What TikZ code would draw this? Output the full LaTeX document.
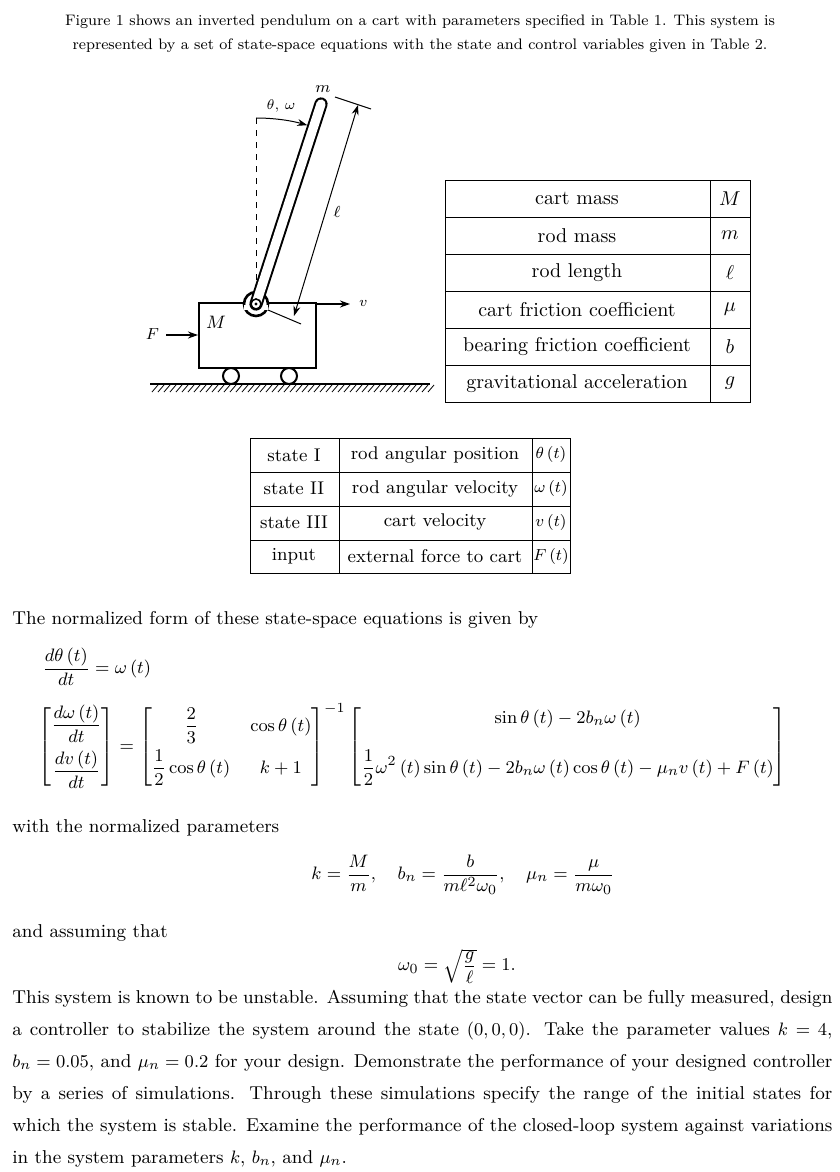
\documentclass[tikz,border=0pt]{standalone}
\usepackage{amsmath,amssymb}
\usetikzlibrary{arrows.meta,calc}
\begin{document}
\begin{tikzpicture}[x=0.5pt,y=-0.5pt,
  body/.style={font=\fontsize{9.3}{16}\selectfont, inner sep=0pt},
  eq/.style={font=\fontsize{9.3}{11}\selectfont, inner sep=0pt},
  tb/.style={font=\fontsize{10}{12}\selectfont, inner sep=0pt},
  tb2/.style={font=\fontsize{9.2}{11}\selectfont, inner sep=0pt},
  thick2/.style={line width=1.3pt},
  arr/.style={-{Stealth[length=5pt,width=3.5pt]}}]
\useasboundingbox (0,0) rectangle (840,1172);
% caption
\node[font=\fontsize{7.6}{12}\selectfont, align=center, inner sep=0pt] (cap) at (420,34)
 {Figure 1 shows an inverted pendulum on a cart with parameters specified in Table 1. This system is\\
  represented by a set of state-space equations with the state and control variables given in Table 2.};
% ground
\draw[line width=1pt] (150,384) -- (430,384);
\foreach \i in {0,...,46} \draw[line width=0.4pt] ({152+\i*6},392) -- ({158+\i*6},385);
% wheels
\draw[line width=1pt] (231,376) circle (8) (289,376) circle (8);
% cart
\draw[thick2, fill=white] (199,303) rectangle (316,368);
\node[font=\itshape\small] (M) at (216,322) {$M$};
% rod
\coordinate (piv) at (256,304);
\coordinate (top) at (321,104);
\draw[dashed] (piv) -- (256,118);
\draw[line width=1.3pt,fill=white] (piv) circle (12);
\fill[white] (244,304.7) rectangle (268,310);
\draw[line width=6.6pt,line cap=round] (piv) -- (top);
\draw[line width=4.6pt,line cap=round,white] (piv) -- (top);
\draw[line width=0.8pt,fill=white] (piv) circle (5);
\fill (piv) circle (1.6);
\node[font=\footnotesize] (m) at (323,89) {$m$};
\draw[arr,line width=0.5pt] (256,118) arc[start angle=-90,end angle=-74,radius=186];
\node[font=\scriptsize] (th) at (281,106) {$\theta,\,\omega$};
% length dimension
\draw[line width=0.5pt] (335,97) -- (371,109);
\draw[line width=0.5pt] (268,310) -- (301,324);
\coordinate (la) at (294,316);
\coordinate (lb) at (358,105);
\draw[{Stealth[length=5pt,width=3.5pt]}-{Stealth[length=5pt,width=3.5pt]},line width=0.5pt] (la) -- (lb);
\node[font=\footnotesize] (ell) at (337,212) {$\ell$};
% v and F
\coordinate (v0) at (316,304);
\coordinate (v1) at (350,304);
\draw[arr,line width=1pt] (v0) -- (v1);
\node[font=\scriptsize,anchor=west] (vl) at (352,303) {$v$};
\coordinate (f0) at (166,335);
\coordinate (f1) at (198,335);
\draw[arr,line width=1pt] (f0) -- (f1);
\node[font=\footnotesize,anchor=east] (Fl) at (166,334) {$F$};
% table 1
\draw[line width=0.5pt] (445,180) rectangle (750,402);
\draw[line width=0.5pt] (710,180) -- (710,402);
\foreach \y in {217,254,291,328,365} \draw[line width=0.5pt] (445,\y) -- (750,\y);
\foreach \t/\s [count=\i] in {cart mass/M, rod mass/m, rod length/\ell, cart friction coefficient/\mu, bearing friction coefficient/b, gravitational acceleration/g}{
  \node[tb] (t1l\i) at (577,{180+37*(\i-0.5)}) {\t};
  \node[tb] (t1r\i) at (730,{180+37*(\i-0.5)}) {$\s$};}
% table 2
\draw[line width=0.5pt] (250,438) rectangle (570,573);
\draw[line width=0.5pt] (339,438) -- (339,573) (532,438) -- (532,573);
\foreach \y in {472,506,540} \draw[line width=0.5pt] (250,\y) -- (570,\y);
\foreach \a/\b/\c [count=\i] in {state I/rod angular position/\theta, state II/rod angular velocity/\omega, state III/cart velocity/v, input/external force to cart/F}{
  \node[tb2] (t2a\i) at (294,{438+33.75*(\i-0.5)}) {\a};
  \node[tb2] (t2b\i) at (435,{438+33.75*(\i-0.5)}) {\b};
  \node[font=\fontsize{8.4}{10}\selectfont,inner sep=0pt] (t2c\i) at (551,{438+33.75*(\i-0.5)}) {$\c\,(t)$};}
% text
\node[body,anchor=west] (p1) at (12,620) {The normalized form of these state-space equations is given by};
\node[eq,anchor=west] (e1) at (42,667) {$\dfrac{d\theta\left(t\right)}{dt}=\omega\left(t\right)$};
\node[eq,anchor=west] (e2) at (38,746) {$\begin{bmatrix}\dfrac{d\omega\left(t\right)}{dt}\\[7pt] \dfrac{dv\left(t\right)}{dt}\end{bmatrix}
=\begin{bmatrix}\dfrac{2}{3} & \cos\theta\left(t\right)\\[6pt] \dfrac{1}{2}\cos\theta\left(t\right) & k+1\end{bmatrix}^{-1}
\begin{bmatrix}\sin\theta\left(t\right)-2b_n\omega\left(t\right)\\[10pt] \dfrac{1}{2}\omega^2\left(t\right)\sin\theta\left(t\right)-2b_n\omega\left(t\right)\cos\theta\left(t\right)-\mu_n v\left(t\right)+F\left(t\right)\end{bmatrix}$};
\node[body,anchor=west] (p2) at (12,828) {with the normalized parameters};
\node[eq] (e3) at (463,875) {$k=\dfrac{M}{m},\quad b_n=\dfrac{b}{m\ell^2\omega_0},\quad \mu_n=\dfrac{\mu}{m\omega_0}$};
\node[body,anchor=west] (p3) at (12,933) {and assuming that};
\node[eq] (e4) at (457,966) {$\omega_0=\sqrt{\dfrac{g}{\ell}}=1.$};
\node[body,anchor=north west,text width=410pt,align=justify] (p4) at (12,990) {This system is known to be unstable. Assuming that the state vector can be fully measured, design a controller to stabilize the system around the state $(0,0,0)$. Take the parameter values $k=4$, $b_n=0.05$, and $\mu_n=0.2$ for your design. Demonstrate the performance of your designed controller by a series of simulations. Through these simulations specify the range of the initial states for which the system is stable. Examine the performance of the closed-loop system against variations in the system parameters $k$, $b_n$, and $\mu_n$.};
\end{tikzpicture}
\end{document}
